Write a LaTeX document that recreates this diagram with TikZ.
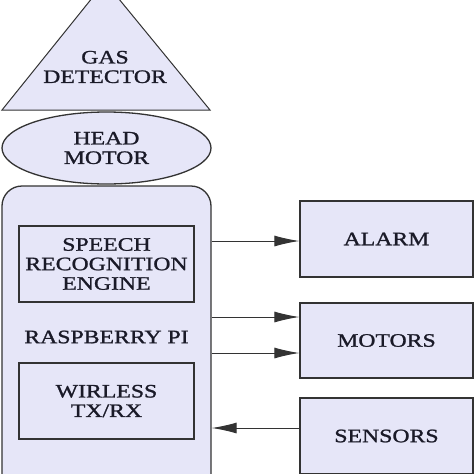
\documentclass[tikz,border=0pt]{standalone}
\usepackage{fontspec}
\setmainfont[FakeStretch=1.25,FakeBold=1.2]{Liberation Serif}
\usetikzlibrary{shapes.geometric,arrows.meta}
\definecolor{boxfill}{HTML}{E6E6F8}
\definecolor{edge}{HTML}{333333}
\definecolor{ink}{HTML}{1A1A28}
\begin{document}
\begin{tikzpicture}[x=1pt,y=-1pt,
  every node/.style={text=ink,font=\fontsize{19}{19.5}\selectfont},
  blk/.style={draw=edge,line width=1.3pt,fill=boxfill,inner sep=0pt,align=center},
  conn/.style={draw=edge,line width=1pt,-{Latex[length=25pt,width=11pt]}}]
\useasboundingbox (0,0) rectangle (474,474);
\clip (0,0) rectangle (474,474);
% gas detector triangle
\draw[draw=edge,line width=1pt,fill=boxfill] (2,110) -- (105,-18) -- (210,110) -- cycle;
\node[align=center] (gas) at (105,67) {GAS\\DETECTOR};
% head motor
\node[blk,ellipse,minimum width=209pt,minimum height=72pt] (head) at (106.5,148) {HEAD\\MOTOR};
% raspberry pi body
\node[blk,rounded corners=20pt,minimum width=209pt,minimum height=330pt] (rpi) at (106.5,351) {};
\node[blk,minimum width=175pt,minimum height=76pt] (speech) at (106.5,264) {SPEECH\\RECOGNITION\\ENGINE};
\node (rpilabel) at (106.5,337) {RASPBERRY PI};
\node[blk,minimum width=175pt,minimum height=76pt] (wireless) at (106.5,401) {WIRLESS\\TX/RX};
% right side
\node[blk,minimum width=173pt,minimum height=76pt] (alarm) at (386.5,239) {ALARM};
\node[blk,minimum width=173pt,minimum height=75pt] (motors) at (386.5,340.5) {MOTORS};
\node[blk,minimum width=173pt,minimum height=76pt] (sensors) at (386.5,436) {SENSORS};
% connectors
\coordinate (a1) at (rpi.east |- 0,241);
\coordinate (a2) at (alarm.west |- 0,241);
\coordinate (m1) at (rpi.east |- 0,317);
\coordinate (m2) at (motors.west |- 0,317);
\coordinate (m3) at (rpi.east |- 0,353);
\coordinate (m4) at (motors.west |- 0,353);
\coordinate (s1) at (sensors.west |- 0,428);
\coordinate (s2) at (rpi.east |- 0,428);
\draw[conn] (a1) -- (a2);
\draw[conn] (m1) -- (m2);
\draw[conn] (m3) -- (m4);
\draw[conn] (s1) -- (s2);
\end{tikzpicture}
\end{document}
